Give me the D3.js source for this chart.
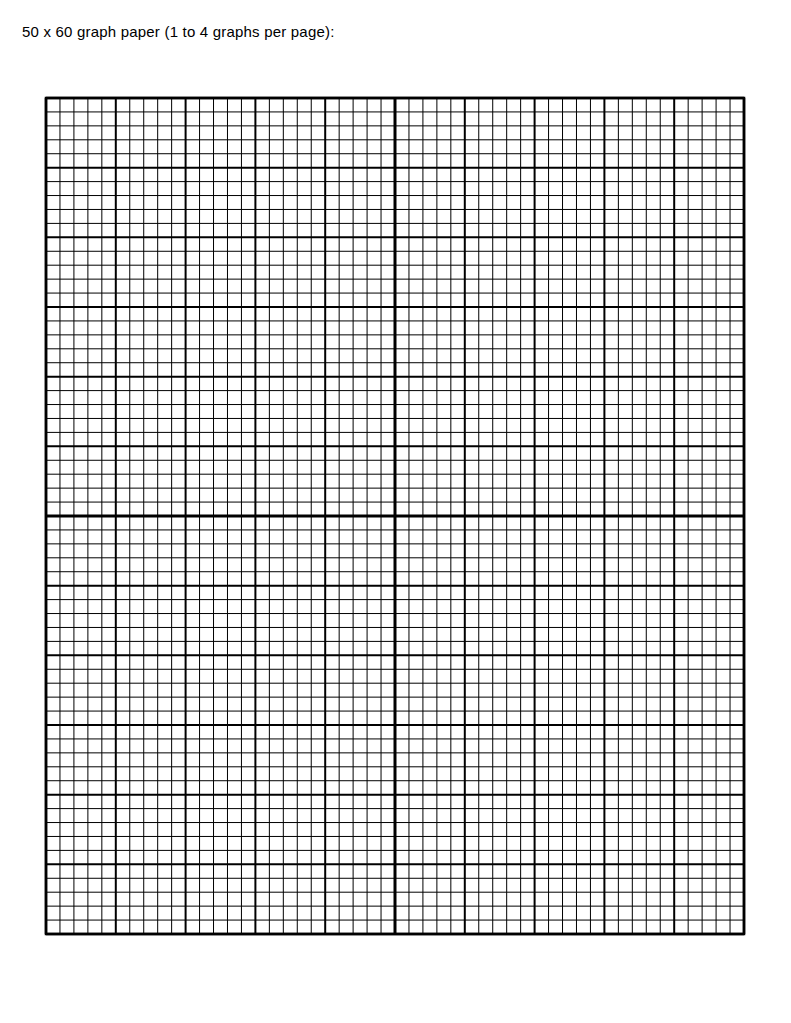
<!DOCTYPE html>
<html>
<head>
<meta charset="utf-8">
<script src="https://cdn.jsdelivr.net/npm/d3@7"></script>
<style>
  body { margin: 0; background: #fff; }
</style>
</head>
<body>
<div id="vis"></div>
<script>
// grid definition
const titleText = "50 x 60 graph paper (1 to 4 graphs per page):";
const columns = d3.range(0, 51);   // 50 cells across
const rows = d3.range(0, 61);      // 60 cells down
const majorEvery = 5;
const centerColumn = [25];
const centerRow = [30];

const width = 791;
const height = 1023;

const svg = d3.select('#vis')
    .append('svg')
    .attr('width', width)
    .attr('height', height);

const x = d3.scaleLinear().domain([0, 50]).range([46, 744]);
const y = d3.scaleLinear().domain([0, 60]).range([98, 934]);

svg.append('text')
    .attr('x', 22)
    .attr('y', 37)
    .attr('fill', 'black')
    .attr('font-family', 'Helvetica, Liberation Sans, Arial, sans-serif')
    .attr('font-size', '15px')
    .attr('letter-spacing', '0.2px')
    .text(titleText);

function lineWidth(i, centers, last) {
    if (centers.includes(i)) return 3;
    if (i === 0 || i === last) return 2.5;
    if (i % majorEvery === 0) return 2;
    return 1;
}

const g = svg.append('g');

// vertical lines, thin ones first so thick ones sit on top
const vOrder = columns.slice().sort((a, b) => lineWidth(a, centerColumn, 50) - lineWidth(b, centerColumn, 50));
g.selectAll('line.v')
    .data(vOrder)
    .enter()
    .append('line')
    .attr('class', 'v')
    .attr('x1', d => x(d))
    .attr('x2', d => x(d))
    .attr('y1', y(0))
    .attr('y2', y(60))
    .attr('stroke', 'black')
    .attr('stroke-width', d => lineWidth(d, centerColumn, 50));

const hOrder = rows.slice().sort((a, b) => lineWidth(a, centerRow, 60) - lineWidth(b, centerRow, 60));
g.selectAll('line.h')
    .data(hOrder)
    .enter()
    .append('line')
    .attr('class', 'h')
    .attr('x1', x(0))
    .attr('x2', x(50))
    .attr('y1', d => y(d))
    .attr('y2', d => y(d))
    .attr('stroke', 'black')
    .attr('stroke-width', d => lineWidth(d, centerRow, 60));

// square off the outer corners
g.append('rect')
    .attr('x', x(0))
    .attr('y', y(0))
    .attr('width', x(50) - x(0))
    .attr('height', y(60) - y(0))
    .attr('fill', 'none')
    .attr('stroke', 'black')
    .attr('stroke-width', 2.5);
</script>
</body>
</html>
